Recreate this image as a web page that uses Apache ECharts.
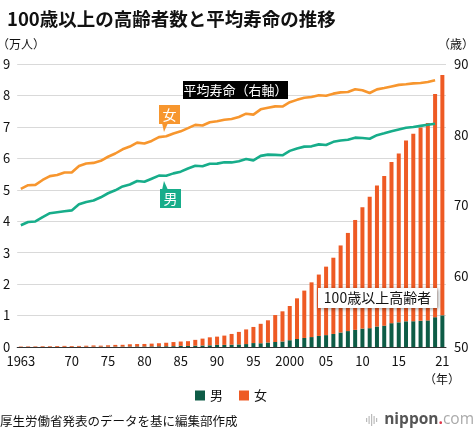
<!DOCTYPE html>
<html>
<head>
<meta charset="utf-8">
<script src="https://cdn.jsdelivr.net/npm/echarts@6/dist/echarts.min.js"></script>
<style>
  html, body { margin: 0; padding: 0; background: #fff; }
  #chart { width: 474px; height: 431px; }
</style>
</head>
<body>
<div id="chart"></div>
<script>
// 1963 - 2021
var years = [];
for (var y = 1963; y <= 2021; y++) years.push(String(y));

var tickLabels = {
    '1963': '1963', '1970': '70', '1975': '75', '1980': '80', '1985': '85', '1990': '90',
    '1995': '95', '2000': '2000', '2005': '05', '2010': '10', '2015': '15', '2021': '21'
};

// 100歳以上 (人)
var menCount = [20, 31, 36, 47, 50, 56, 59, 62, 73, 85,
    101, 117, 102, 135, 144, 162, 186, 174, 205, 228,
    241, 265, 359, 340, 409, 484, 543, 680, 674, 752,
    826, 931, 1255, 1194, 1434, 1591, 1749, 2158, 2541, 2875,
    3159, 3523, 3779, 4150, 4613, 5063, 5447, 5869, 5994, 6534,
    6791, 7586, 7840, 8167, 8197, 8331, 8464, 9475, 10060];
var womenCount = [133, 160, 162, 205, 205, 271, 293, 248, 266, 320,
    394, 310, 446, 531, 554, 705, 751, 794, 867, 967,
    1113, 1302, 1381, 1511, 1862, 2184, 2535, 2618, 2951, 3400,
    3976, 4662, 5123, 6179, 7057, 8567, 9597, 10878, 12934, 15059,
    17402, 19515, 21775, 24245, 27682, 31213, 34952, 38580, 41762, 44842,
    47606, 51234, 53728, 57525, 59627, 61454, 62774, 70975, 76450];

// 平均寿命 (歳), 1963 - 2020
var lifeWomen = [72.34, 72.87, 72.92, 73.61, 74.15, 74.30, 74.67, 74.66, 75.58, 75.94,
    76.02, 76.31, 76.89, 77.35, 77.95, 78.33, 78.89, 78.76, 79.13, 79.66,
    79.78, 80.18, 80.48, 80.93, 81.39, 81.30, 81.77, 81.90, 82.11, 82.22,
    82.51, 82.98, 82.85, 83.59, 83.82, 84.01, 83.99, 84.60, 84.93, 85.23,
    85.33, 85.59, 85.52, 85.81, 85.99, 86.05, 86.44, 86.30, 85.90, 86.41,
    86.61, 86.83, 87.05, 87.14, 87.26, 87.32, 87.45, 87.71];
var lifeMen = [67.21, 67.67, 67.74, 68.35, 68.91, 69.05, 69.18, 69.31, 70.17, 70.50,
    70.70, 71.16, 71.73, 72.15, 72.69, 72.97, 73.46, 73.35, 73.79, 74.22,
    74.20, 74.54, 74.78, 75.23, 75.61, 75.54, 75.91, 75.92, 76.11, 76.09,
    76.25, 76.57, 76.38, 77.01, 77.19, 77.16, 77.10, 77.72, 78.07, 78.32,
    78.36, 78.64, 78.56, 79.00, 79.19, 79.29, 79.59, 79.55, 79.44, 79.94,
    80.21, 80.50, 80.75, 80.98, 81.09, 81.25, 81.41, 81.56];

var font = "'Noto Sans CJK JP', sans-serif";
var toMan = function (v) { return v / 10000; };

var chart = echarts.init(document.getElementById('chart'));

var option = {
    animation: false,
    textStyle: { fontFamily: font },
    title: {
        text: '100歳以上の高齢者数と平均寿命の推移',
        left: 2,
        top: 5,
        textStyle: { fontSize: 18.5, fontWeight: 'bold', color: '#111', fontFamily: font }
    },
    legend: {
        data: ['男', '女'],
        left: 190,
        top: 384,
        icon: 'rect',
        itemWidth: 10,
        itemHeight: 10,
        itemGap: 16,
        itemStyle: { borderWidth: 0 },
        textStyle: { fontSize: 13, color: '#111', fontFamily: font }
    },
    grid: {
        left: 17,
        right: 28,
        top: 64,
        bottom: 84,
        containLabel: false
    },
    xAxis: {
        type: 'category',
        data: years,
        axisLine: { lineStyle: { color: '#333', width: 1 } },
        axisTick: { show: false },
        axisLabel: {
            interval: function (i, v) { return tickLabels[v] !== undefined; },
            formatter: function (v) { return tickLabels[v] || ''; },
            fontSize: 13,
            color: '#111',
            margin: 8,
            hideOverlap: false
        }
    },
    yAxis: [{
        type: 'value',
        min: 0,
        max: 9,
        interval: 1,
        axisLine: { show: false },
        axisTick: { show: false },
        axisLabel: { fontSize: 13, color: '#111', margin: 7 },
        splitLine: { lineStyle: { color: '#d9d9d9', width: 1 } }
    }, {
        type: 'value',
        min: 50,
        max: 90,
        interval: 10,
        axisLine: { show: false },
        axisTick: { show: false },
        axisLabel: { fontSize: 13, color: '#111', margin: 8 },
        splitLine: { show: false }
    }],
    series: [{
        name: '男',
        type: 'bar',
        stack: 'count',
        barWidth: 4,
        itemStyle: { color: '#0e5c46' },
        data: menCount.map(toMan)
    }, {
        name: '女',
        type: 'bar',
        stack: 'count',
        barWidth: 4,
        itemStyle: { color: '#ee5a24' },
        data: womenCount.map(toMan)
    }, {
        name: '女性平均寿命',
        type: 'line',
        yAxisIndex: 1,
        showSymbol: false,
        symbol: 'none',
        lineStyle: { color: '#f7962e', width: 2.6 },
        data: lifeWomen
    }, {
        name: '男性平均寿命',
        type: 'line',
        yAxisIndex: 1,
        showSymbol: false,
        symbol: 'none',
        lineStyle: { color: '#17ad8a', width: 2.6 },
        data: lifeMen
    }],
    graphic: [
        { type: 'text', z: 100, left: -3, top: 38, style: { text: '（万人）', fontSize: 12, fill: '#111', fontFamily: font } },
        { type: 'text', z: 100, right: 0, top: 38, style: { text: '（歳）', fontSize: 12, fill: '#111', fontFamily: font } },
        { type: 'text', z: 100, left: 424, top: 373, style: { text: '（年）', fontSize: 12, fill: '#111', fontFamily: font } },
        // 平均寿命（右軸）
        { type: 'rect', z: 100, shape: { x: 183, y: 81, width: 105, height: 18 }, style: { fill: '#000' } },
        { type: 'text', z: 101, x: 235.5, y: 90, style: { text: '平均寿命（右軸）', fontSize: 13, fill: '#fff', align: 'center', verticalAlign: 'middle', fontFamily: font } },
        // 女
        { type: 'polygon', z: 100, shape: { points: [[162, 123], [168, 123], [164, 132]] }, style: { fill: '#f7962e' } },
        { type: 'rect', z: 100, shape: { x: 159, y: 105, width: 21, height: 19 }, style: { fill: '#f7962e' } },
        { type: 'text', z: 101, x: 169.5, y: 114.5, style: { text: '女', fontSize: 14, fill: '#fff', align: 'center', verticalAlign: 'middle', fontFamily: font } },
        // 男
        { type: 'polygon', z: 100, shape: { points: [[162, 190], [168, 190], [164, 181]] }, style: { fill: '#17ad8a' } },
        { type: 'rect', z: 100, shape: { x: 160, y: 189, width: 21, height: 19 }, style: { fill: '#17ad8a' } },
        { type: 'text', z: 101, x: 170.5, y: 198.5, style: { text: '男', fontSize: 14, fill: '#fff', align: 'center', verticalAlign: 'middle', fontFamily: font } },
        // 100歳以上高齢者
        { type: 'rect', z: 100, shape: { x: 318, y: 288, width: 119, height: 20 }, style: { fill: '#fff', shadowBlur: 4, shadowColor: 'rgba(0,0,0,0.45)', shadowOffsetX: 1, shadowOffsetY: 1 } },
        { type: 'text', z: 101, x: 377.5, y: 298, style: { text: '100歳以上高齢者', fontSize: 14, fill: '#111', align: 'center', verticalAlign: 'middle', fontFamily: font } },
        // footer
        { type: 'text', z: 100, left: 0, top: 415, style: { text: '厚生労働省発表のデータを基に編集部作成', fontSize: 12.5, fill: '#111', fontFamily: font } },
        { type: 'rect', z: 100, shape: { x: 366, y: 418, width: 1.2, height: 4 }, style: { fill: '#bbb' } },
        { type: 'rect', z: 100, shape: { x: 368.5, y: 416, width: 1.2, height: 8 }, style: { fill: '#bbb' } },
        { type: 'rect', z: 100, shape: { x: 371, y: 414, width: 1.2, height: 12 }, style: { fill: '#bbb' } },
        { type: 'rect', z: 100, shape: { x: 373.5, y: 416, width: 1.2, height: 8 }, style: { fill: '#bbb' } },
        { type: 'rect', z: 100, shape: { x: 376, y: 418, width: 1.2, height: 4 }, style: { fill: '#bbb' } },
        {
            type: 'text', z: 100, x: 474, y: 420,
            style: {
                text: '{a|nippon}{b|.}{c|com}',
                align: 'right',
                verticalAlign: 'middle',
                fontFamily: "'Open Sans', sans-serif",
                rich: {
                    a: { fontSize: 15.5, fontWeight: 'bold', fill: '#555', fontFamily: "'Open Sans', sans-serif" },
                    b: { fontSize: 15.5, fontWeight: 'bold', fill: '#e0364a', fontFamily: "'Open Sans', sans-serif" },
                    c: { fontSize: 15.5, fill: '#aaa', fontFamily: "'Open Sans', sans-serif" }
                }
            }
        }
    ]
};

chart.setOption(option);
</script>
</body>
</html>
